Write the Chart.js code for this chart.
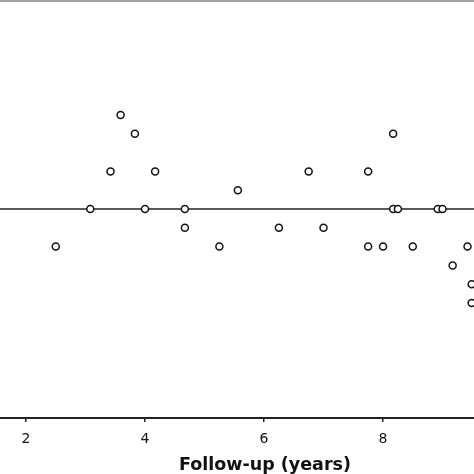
<!DOCTYPE html>
<html>
<head>
<meta charset="utf-8">
<script src="https://cdn.jsdelivr.net/npm/chart.js@4/dist/chart.umd.min.js"></script>
<style>
  html, body { margin: 0; padding: 0; background: #fff; overflow: hidden; }
  #wrap { position: relative; width: 530px; height: 474px; }
  #topbar { position: absolute; left: 0; top: 0; width: 100%; height: 2px; background: #a3a3a3; z-index: 2; }
</style>
</head>
<body>
<div id="wrap">
  <div id="topbar"></div>
  <canvas id="chart"></canvas>
</div>
<script>
// follow-up time (years) and difference for each patient
const followUp = [2.5, 3.08, 3.42, 3.59, 3.83, 4.0, 4.17, 4.67, 4.67, 5.25, 5.56,
  6.25, 6.75, 7.0, 7.75, 7.75, 8.0, 8.17, 8.17, 8.25, 8.5, 8.92, 9.0, 9.17, 9.42, 9.49, 9.49];
const difference = [-2, 0, 2, 5, 4, 0, 2, 0, -1, -2, 1,
  -1, 2, -1, 2, -2, -2, 4, 0, 0, -2, 0, 0, -3, -2, -4, -5];
const xTicks = [2, 4, 6, 8, 10];
const refLine = 0;
const xMin = 1.563;
const xMax = 10.47;

const points = followUp.map((x, i) => ({ x, y: difference[i] }));

new Chart(document.getElementById('chart'), {
  type: 'scatter',
  data: {
    datasets: [
      {
        type: 'scatter',
        data: points,
        pointStyle: 'circle',
        pointRadius: 3.5,
        pointBackgroundColor: '#fff',
        pointBorderColor: '#111',
        pointBorderWidth: 1.5,
        order: 1
      },
      {
        type: 'line',
        data: [{ x: xMin, y: refLine }, { x: xMax, y: refLine }],
        borderColor: '#222',
        borderWidth: 1.5,
        pointRadius: 0,
        fill: false,
        order: 2
      }
    ]
  },
  options: {
    responsive: true,
    maintainAspectRatio: false,
    animation: false,
    layout: { padding: 0, autoPadding: false },
    plugins: { legend: { display: false }, tooltip: { enabled: false } },
    scales: {
      x: {
        type: 'linear',
        min: xMin,
        max: xMax,
        afterBuildTicks: (scale) => { scale.ticks = xTicks.map((v) => ({ value: v })); },
        afterFit: (scale) => { scale.height = 56; },
        border: { display: true, color: '#222', width: 2 },
        grid: { drawOnChartArea: false, drawTicks: true, tickLength: 4, color: '#222', lineWidth: 1.5 },
        ticks: { color: '#111', padding: 9, font: { family: 'DejaVu Sans', size: 14 } },
        title: {
          display: true,
          text: 'Follow-up (years)',
          color: '#111',
          padding: { top: 0, bottom: 0 },
          font: { family: 'DejaVu Sans', size: 17.5, weight: 'bold', lineHeight: 1.0 }
        }
      },
      y: {
        display: false,
        min: -11.12,
        max: 11.12
      }
    }
  }
});
</script>
</body>
</html>
